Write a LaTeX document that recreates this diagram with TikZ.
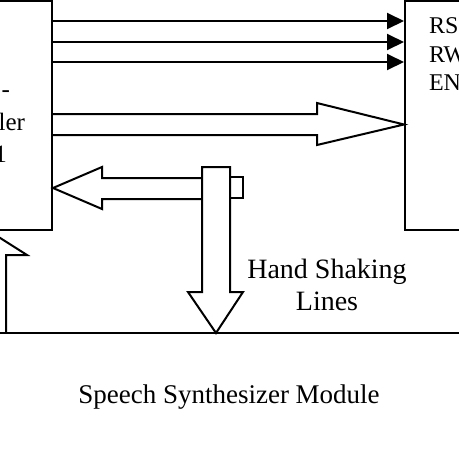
\documentclass[tikz,border=0pt]{standalone}
\usepackage{fontspec}
\setmainfont{Liberation Serif}
\usetikzlibrary{arrows.meta}
\begin{document}
\begin{tikzpicture}[x=1pt,y=-1pt, line width=2pt, line join=miter,
  lbl/.style={font=\fontsize{28}{32}\selectfont, inner sep=0pt},
  boxlbl/.style={font=\fontsize{24}{28}\selectfont, inner sep=0pt, anchor=base west},
  frag/.style={font=\fontsize{25}{28}\selectfont, inner sep=0pt, anchor=base east},
  sig/.style={-{Triangle[length=17pt,width=16pt]}},
  blk/.style={draw, inner sep=0pt}]
\useasboundingbox (0,0) rectangle (459,459);
% blocks
\node[blk, anchor=north east, minimum width=130pt, minimum height=229pt] (mcu) at (53,0) {};
\node[blk, anchor=north west, minimum width=120pt, minimum height=229pt] (lcd) at (404,0) {};
% fragments of labels
\node[frag] (t1) at (11,97) {-};
\node[frag] (t2) at (26,130) {ler};
\node[frag] (t3) at (8,162) {1};
\node[boxlbl] (rs) at (428,33) {RS};
\node[boxlbl] (rw) at (428,62) {RW};
\node[boxlbl] (en) at (428,90) {EN};
% control lines
\foreach \yy/\nm in {21/a,42/b,62/c}{
  \coordinate (s\nm) at (53,\yy);
  \coordinate (e\nm) at (404,\yy);
  \draw[sig] (s\nm) -- (e\nm);
}
% data bus to LCD
\coordinate (db) at (404,124.5);
\draw (53,114) -- (317,114) -- (317,103) -- (db) -- (317,145) -- (317,135) -- (53,135);
% handshake bus to MCU
\coordinate (hb) at (53,188);
\draw (202,178) -- (102,178) -- (102,167) -- (hb) -- (102,209) -- (102,199) -- (202,199);
\draw (230,177) -- (243,177) -- (243,198) -- (230,198);
% vertical handshake arrow
\coordinate (vt) at (216,333);
\draw (188,292) -- (202,292) -- (202,167) -- (230,167) -- (230,292) -- (243,292) -- (vt) -- cycle;
% speech module top line
\coordinate (bl) at (0,333);
\coordinate (br) at (465,333);
\draw (bl) -- (br);
% up arrow from module
\draw (6,333) -- (6,255) -- (27,255) -- (-14,229);
% labels
\node[lbl, align=center, anchor=base] (hs) at (327,310) {Hand Shaking\\Lines};
\node[lbl, font=\fontsize{27}{32}\selectfont, anchor=base] (ssm) at (229,403) {Speech Synthesizer Module};
\end{tikzpicture}
\end{document}
